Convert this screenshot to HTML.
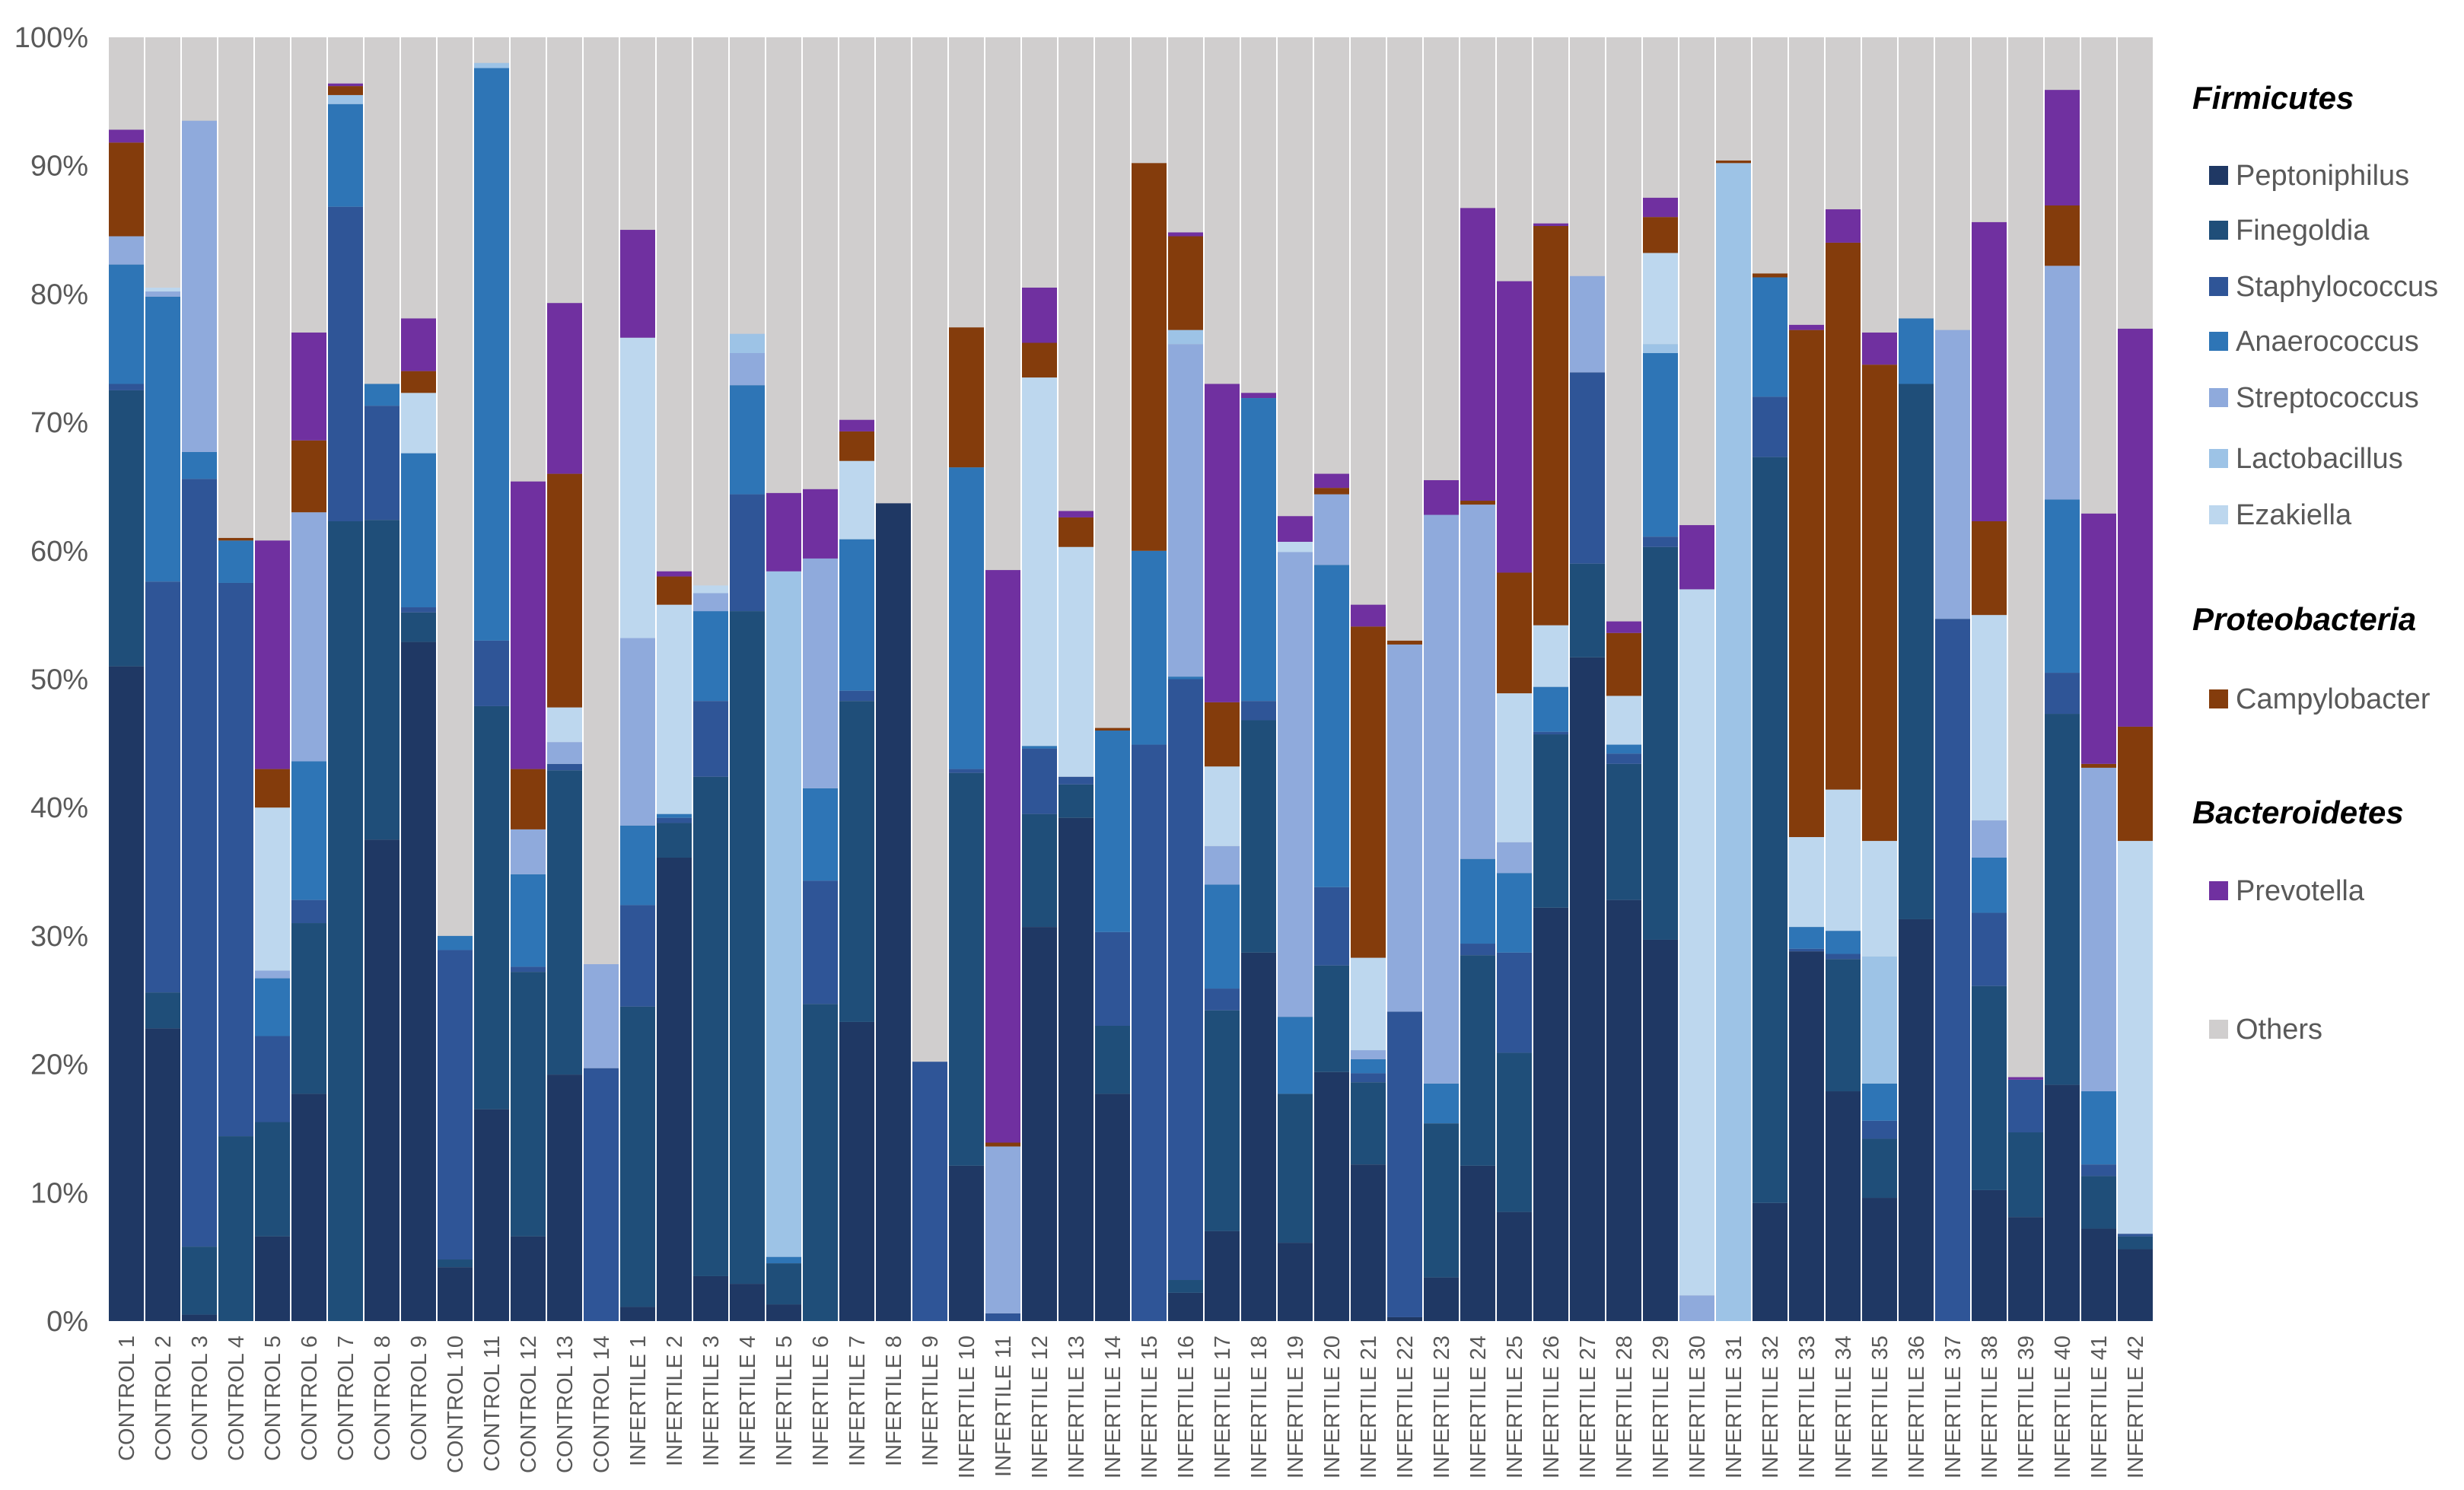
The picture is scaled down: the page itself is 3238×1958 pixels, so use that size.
<!DOCTYPE html>
<html><head><meta charset="utf-8"><style>
html,body{margin:0;padding:0;background:#fff;}
svg text{font-family:"Liberation Sans",sans-serif;}
</style></head><body>
<svg id="chart" width="3238" height="1953" viewBox="0 0 3238 1953" xmlns="http://www.w3.org/2000/svg">
<g id="bars"></g>
<g id="yaxis"></g>
<g id="xaxis"></g>
<g id="legend"></g>
</svg>
<script>
const categories = [];
for (let i = 1; i <= 14; i++) categories.push('CONTROL ' + i);
for (let i = 1; i <= 42; i++) categories.push('INFERTILE ' + i);
const seriesNames = ['Peptoniphilus','Finegoldia','Staphylococcus','Anaerococcus','Streptococcus','Lactobacillus','Ezakiella','Campylobacter','Prevotella'];
const seriesColors = ['#1f3864','#1f4e79','#2f5597','#2e75b6','#8faadc','#9dc3e6','#bdd7ee','#843c0c','#7030a0'];
const othersColor = '#d0cece';
const yTicks = ['0%','10%','20%','30%','40%','50%','60%','70%','80%','90%','100%'];
const peptoniphilus = [51,22.8,0.5,0,6.6,17.7,0,37.5,52.9,4.2,16.5,6.6,19.2,0, 1.1,36.1,3.5,2.9,1.3,0,23.3,63.7,0,12.1,0,30.7,39.2,17.7,0,2.2,7,28.7,6.1,19.4,12.2,0.3,3.4,12.1,8.5,32.2,51.7,32.8,29.7,0,0,9.2,28.8,17.9,9.6,31.3,0,10.2,8.1,18.4,7.2,5.6];
const finegoldia = [21.5,2.8,5.3,14.4,8.9,13.3,62.3,24.9,2.3,0.6,31.4,20.6,23.7,0, 23.4,2.7,38.9,52.4,3.2,24.7,25,0,0,30.6,0,8.8,2.6,5.3,0,1,17.2,18.1,11.6,8.3,6.4,0,12,16.4,12.4,13.5,7.3,10.6,30.6,0,0,58.1,0,10.3,4.6,41.7,0,15.9,6.6,28.9,4.1,1];
const staphylococcus = [0.5,32,59.8,43.1,6.7,1.8,24.5,8.9,0.4,24.1,5.1,0.4,0.5,19.7, 7.9,0.4,5.9,9.1,0,9.6,0.8,0,20.2,0.3,0.6,5.1,0.6,7.3,44.9,46.8,1.7,1.5,0,6.1,0.7,23.8,0,0.9,7.8,0.2,14.9,0.8,0.8,0,0,4.7,0.2,0.4,1.4,0,54.7,5.7,4.1,3.2,0.9,0.2];
const anaerococcus = [9.3,22.2,2.1,3.3,4.5,10.8,8,1.7,12,1.1,44.6,7.2,0,0, 6.2,0.3,7,8.5,0.5,7.2,11.8,0,0,23.5,0,0.2,0,15.7,15.1,0.2,8.1,23.6,6,25.1,1.1,0,3.1,6.6,6.2,3.5,0,0.7,14.3,0,0,9.3,1.7,1.8,2.9,5.1,0,4.3,0,13.5,5.7,0];
const streptococcus = [2.2,0.4,25.8,0,0.6,19.4,0,0,0,0,0,3.5,1.7,8.1, 14.6,0,1.4,2.5,0,17.9,0,0,0,0,13,0,0,0,0,25.9,3,0,36.2,5.5,0.7,28.6,44.3,27.6,2.4,0,7.5,0,0,2,0,0,0,0,0,0,22.5,2.9,0,18.2,25.2,0];
const lactobacillus = [0,0,0,0,0,0,0.7,0,0,0,0.4,0,0,0, 0,0,0,1.5,53.4,0,0,0,0,0,0,0,0,0,0,1.1,0,0,0,0,0,0,0,0,0,0,0,0,0.7,0,90.2,0,0,0,9.9,0,0,0,0,0,0,0];
const ezakiella = [0,0.3,0,0,12.7,0,0,0,4.7,0,0,0,2.7,0, 23.4,16.3,0.6,0,0,0,6.1,0,0,0,0,28.7,17.9,0,0,0,6.2,0,0.8,0,7.2,0,0,0,11.6,4.8,0,3.8,7.1,55,0,0,7,11,9,0,0,16,0,0,0,30.6];
const campylobacter = [7.3,0,0,0.2,3,5.6,0.7,0,1.7,0,0,4.7,18.2,0, 0,2.2,0,0,0,0,2.3,0,0,10.9,0.3,2.7,2.3,0.2,30.2,7.3,5,0,0,0.5,25.8,0.3,0,0.3,9.4,31.1,0,4.9,2.8,0,0.2,0.3,39.5,42.6,37.1,0,0,7.3,0,4.7,0.3,8.9];
const prevotella = [1,0,0,0,17.8,8.4,0.2,0,4.1,0,0,22.4,13.3,0, 8.4,0.4,0,0,6.1,5.4,0.9,0,0,0,44.6,4.3,0.5,0,0,0.3,24.8,0.4,2,1.1,1.7,0,2.7,22.8,22.7,0.2,0,0.9,1.5,5,0,0,0.4,2.6,2.5,0,0,23.3,0.2,9,19.5,31];
const seriesValues = [peptoniphilus,finegoldia,staphylococcus,anaerococcus,streptococcus,lactobacillus,ezakiella,campylobacter,prevotella];

const NS='http://www.w3.org/2000/svg';
const L=142, R=2830, T=49, B=1736;
const band=(R-L)/categories.length;
const yScale=v=>B-(v/100)*(B-T);
const xScale=i=>L+i*band;
function mk(tag,attrs,parent){const e=document.createElementNS(NS,tag);for(const k in attrs)e.setAttribute(k,attrs[k]);parent.appendChild(e);return e;}
const gb=document.getElementById('bars');
categories.forEach((c,i)=>{
  const x=xScale(i)+1, w=band-2;
  const bg=mk('rect',{x:x,y:T,width:w,height:B-T,fill:othersColor},gb);
  
  
  let cum=0;
  seriesValues.forEach((arr,s)=>{
    const v=arr[i]; if(!v) return;
    const y0=yScale(cum), y1=yScale(cum+v);
    const r=mk('rect',{x:x,y:y1,width:w,height:y0-y1,fill:seriesColors[s]},gb);
    
    
    cum+=v;
  });
});
const gy=document.getElementById('yaxis');
yTicks.forEach((t,i)=>{
  const tx=mk('text',{x:116,y:yScale(i*10)+13,'text-anchor':'end','font-size':38,fill:'#595959'},gy);
  tx.textContent=t;
  
  
});
const gx=document.getElementById('xaxis');
categories.forEach((c,i)=>{
  const cx=xScale(i)+band/2+10, y=1755;
  const tx=mk('text',{x:0,y:0,'text-anchor':'end','font-size':29,fill:'#595959',transform:`translate(${cx},${y}) rotate(-90)`},gx);
  tx.textContent=c;
  
  
});
const gl=document.getElementById('legend');
const heads=[['Firmicutes',143],['Proteobacteria',828],['Bacteroidetes',1082]];
heads.forEach(h=>{
  const t=mk('text',{x:2881,y:h[1],'font-size':42,'font-weight':'bold','font-style':'italic',fill:'#000'},gl);
  t.textContent=h[0];
  
  
});
const legY=[230,302,376,448,522,602,676,918,1170];
seriesNames.forEach((n,s)=>{
  const r=mk('rect',{x:2903,y:legY[s]-12,width:25,height:25,fill:seriesColors[s]},gl);
  
  
  const t=mk('text',{x:2938,y:legY[s]+13,'font-size':38,fill:'#595959'},gl);
  t.textContent=n;
  
  
});
const ro=mk('rect',{x:2903,y:1340,width:25,height:25,fill:othersColor},gl);


const to=mk('text',{x:2938,y:1365,'font-size':38,fill:'#595959'},gl);
to.textContent='Others';


</script>
</body></html>
